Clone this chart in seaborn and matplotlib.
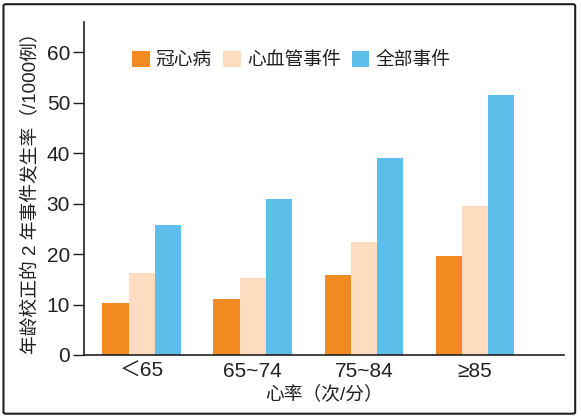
import matplotlib
matplotlib.use("Agg")
import matplotlib.pyplot as plt
import matplotlib.patches as mpatches
import pandas as pd
import seaborn as sns

# heart-rate groups and 2-year event rates (/1000)
rate_groups = ["＜65", "65~74", "75~84", "≥85"]
events = ["冠心病", "心血管事件", "全部事件"]
chd = [10.3, 11.1, 15.9, 19.7]
cvd = [16.3, 15.3, 22.4, 29.6]
all_events = [25.8, 31.0, 39.1, 51.6]
colors = ["#F28A21", "#FDDCC0", "#5DBEEA"]

rows = []
for name, vals in zip(events, [chd, cvd, all_events]):
    for g, v in zip(rate_groups, vals):
        rows.append({"心率": g, "事件": name, "发生率": v})
df = pd.DataFrame(rows)

sns.set_style("white")
plt.rcParams["font.family"] = ["Liberation Sans", "Noto Sans CJK SC", "DejaVu Sans"]
text_color = "#231F20"

fig = plt.figure(figsize=(5.81, 4.20), dpi=100)
ax = fig.add_axes([0.1446, 0.1548, 0.826, 0.793])

sns.barplot(data=df, x="心率", y="发生率", hue="事件", order=rate_groups,
            hue_order=events, palette=colors, saturation=1, width=0.71,
            ax=ax, linewidth=0)

ax.set_xlim(-0.52, 3.8)
ax.set_ylim(0, 66)
ax.set_yticks(range(0, 61, 10))
ax.tick_params(axis="y", length=8, width=1, color=text_color, labelsize=15,
               labelcolor=text_color, pad=2, left=True)
ax.tick_params(axis="x", length=0, labelsize=15, labelcolor=text_color, pad=5)

for side in ["top", "right"]:
    ax.spines[side].set_visible(False)
for side in ["left", "bottom"]:
    ax.spines[side].set_color(text_color)
    ax.spines[side].set_linewidth(1.2)

ax.set_xlabel("心率（次/分）", fontsize=13.5, color=text_color, labelpad=3)
ax.set_ylabel("年龄校正的 2 年事件发生率（/1000例）", fontsize=13.5,
              color=text_color, labelpad=5)

ax.legend(loc="center left", bbox_to_anchor=(0.085, 0.886), ncol=3,
          frameon=False, fontsize=13.5, handlelength=0.95, handleheight=0.95,
          handletextpad=0.3, columnspacing=0.6, labelcolor=text_color,
          borderaxespad=0)

# outer frame
fig.patches.append(mpatches.FancyBboxPatch(
    (0.006, 0.015), 0.984, 0.975, boxstyle="round,pad=0,rounding_size=0.004",
    transform=fig.transFigure, fill=False, edgecolor=text_color, linewidth=1.5))

fig.savefig("out.png", dpi=100)
